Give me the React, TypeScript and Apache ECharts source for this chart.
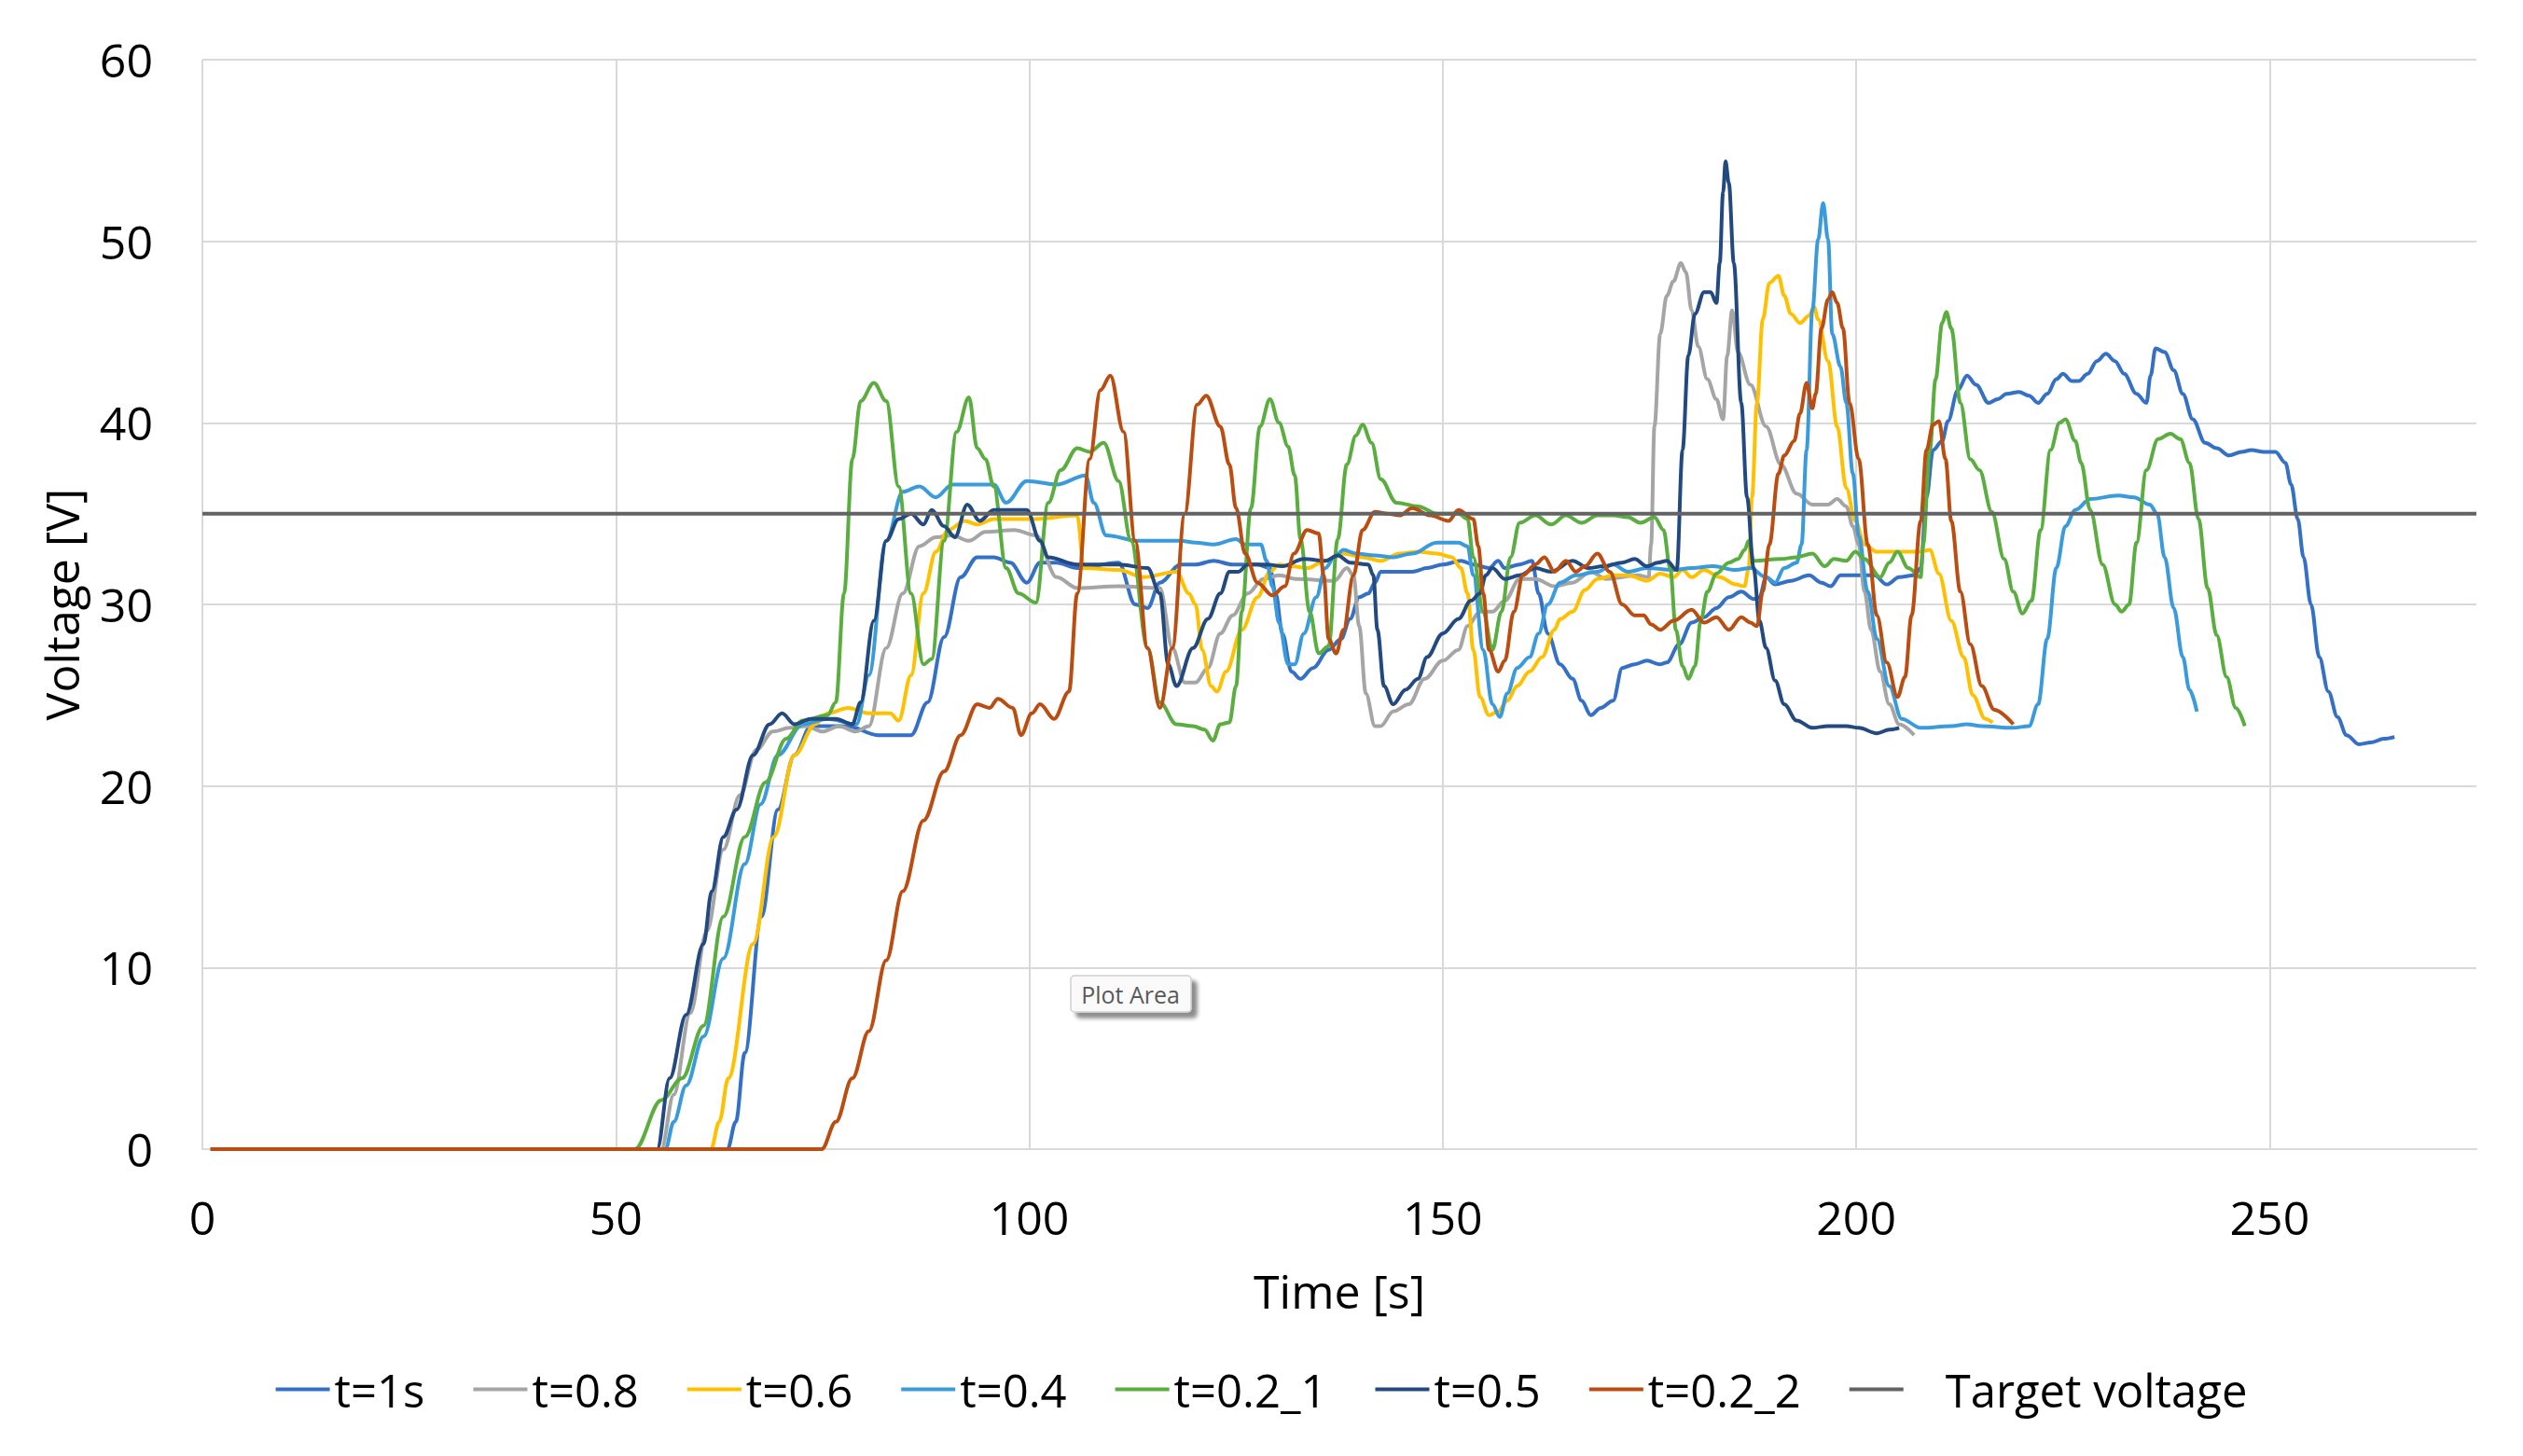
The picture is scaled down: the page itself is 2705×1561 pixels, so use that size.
import React, { useEffect, useRef } from "react";
import * as echarts from "echarts";

const seriesNames = ["t=1s", "t=0.8", "t=0.6", "t=0.4", "t=0.2_1", "t=0.5", "t=0.2_2", "Target voltage"];
const seriesColors = ["#3370C6", "#A5A5A5", "#FFC000", "#3A9BDC", "#5AAE3F", "#224A80", "#BB4D10", "#636363"];

const xMin = 0;
const xMax = 275;
const xInterval = 50;
const yMin = 0;
const yMax = 60;
const yInterval = 10;
const xTitle = "Time [s]";
const yTitle = "Voltage [V]";

const t1s = [[1,0],[63.5,0],[64.5,1.5],[65.6,5.3],[67.6,12.8],[69.6,18.7],[71.6,21.7],[73.6,23.3],[78,23.3],[81.7,22.8],[85.7,22.8],[87.7,24.6],[89.7,28.2],[91.7,31.5],[93.7,32.6],[95.7,32.6],[97.7,32.3],[99.7,31.2],[101.3,32.3],[103.3,32.3],[105.8,32],[110.8,32.3],[112.8,30],[114.3,29.8],[115.8,31.2],[118.3,32.2],[120.1,32.2],[122.3,32.4],[124.6,32.2],[127.6,32.2],[129.1,32],[129.8,30.6],[130.6,28.4],[131.7,26.3],[132.8,25.9],[134.3,26.5],[136.2,27.5],[137.7,28.1],[138.8,29.2],[139.9,30.4],[141,30.6],[141.8,31.2],[142.5,31.8],[146.3,31.8],[148.1,32],[150,32.2],[152.2,32.4],[153.7,32.2],[155.6,32],[156.7,32.4],[157.5,32],[159.3,32.2],[160.8,32.4],[161.6,30.6],[162.7,28.4],[164.2,26.7],[165.7,25.9],[166.8,24.7],[167.9,23.9],[169.1,24.3],[170.6,24.7],[171.7,26.5],[173.2,26.7],[174.7,26.9],[176.2,26.7],[177.1,26.8],[178.6,27.8],[180.1,29],[181.6,29.3],[183.1,29.8],[184.6,30.4],[186.1,30.7],[187.6,30.3],[188.3,30.4],[189.1,31.5],[190.2,31.1],[192.1,31.3],[194.3,31.6],[195.8,31.2],[196.9,31],[198.1,31.6],[202.2,31.6],[203.7,31.1],[205.2,31.5],[207,31.6],[207.8,32],[208.5,35.9],[209.3,38.5],[210.4,39],[211.1,40.1],[212.3,41.8],[213.4,42.6],[214.5,42.1],[216,41.1],[217.1,41.3],[218.2,41.6],[219.7,41.7],[220.9,41.5],[222,41.1],[223.1,41.6],[224.2,42.4],[225,42.7],[226.1,42.3],[226.9,42.3],[228,42.7],[229.1,43.4],[230.2,43.8],[231.3,43.4],[232.4,42.7],[233.9,41.6],[235.1,41.1],[235.6,42.6],[236.2,44.1],[237.3,43.9],[238.4,42.9],[239.5,41.6],[240.7,40.2],[242.2,38.9],[243.6,38.6],[245.1,38.2],[246.6,38.4],[247.8,38.5],[249.3,38.4],[250.7,38.4],[251.9,37.8],[252.6,36.6],[253.4,34.7],[254.1,32.6],[255,30],[256,27.1],[257.1,25.2],[258.2,23.8],[259.3,22.8],[260.8,22.3],[262.3,22.4],[263.8,22.6],[265.1,22.7]];

const t08 = [[1,0],[55.5,0],[57,3],[59,7.5],[61,12],[63,16.5],[65,19.5],[67,22],[69,23],[71,23.2],[73,23.3],[75,23],[77,23.3],[79,23],[80.6,23.3],[82.7,27.6],[84.7,30.6],[86.7,33.2],[88.7,33.7],[90.7,33.8],[92.7,33.5],[94.7,34],[98.2,34.1],[100.8,33.8],[103.3,31.5],[105.8,30.9],[110.8,31],[115.8,30.9],[117.3,27.6],[118.8,25.7],[120.1,25.7],[121.6,26.5],[123.1,28.4],[124.6,29.4],[126.4,30.6],[128.3,31.4],[130.2,31.6],[132.4,31.4],[136.9,31.3],[138.4,32],[139.2,31.6],[139.9,28.8],[140.7,25.1],[141.8,23.3],[142.5,23.3],[144,24.1],[145.9,24.5],[147.8,25.9],[150,26.9],[151.9,27.5],[153,28.8],[154.5,29.6],[156,29.6],[157.5,30.2],[159.3,31.4],[161.2,31.4],[163.5,31],[165.7,31.2],[167.9,31.8],[169.8,31.4],[173.6,31.6],[174.9,31.5],[175.2,33.3],[175.6,39.8],[176.3,44.9],[177.1,47],[177.9,47.8],[178.8,48.8],[179.4,48.3],[180.1,46.2],[180.9,44.2],[182,42.4],[183.1,41.3],[183.9,40.2],[184.4,43.7],[185,46.2],[185.7,43.9],[187.2,42.1],[189.1,39.8],[190.9,37.7],[192.8,36.1],[194.7,35.5],[196.6,35.5],[197.7,35.8],[198.8,35.4],[199.6,34.3],[200.3,33.3],[201,30.7],[201.8,28.6],[202.9,26.3],[204,24.5],[205.2,23.4],[207,22.8]];

const t06 = [[1,0],[61.5,0],[62.5,1.5],[63.6,3.9],[66.6,11.3],[69.1,17.2],[71.6,21.7],[74.1,23.4],[75.6,24],[78.1,24.3],[80.6,24],[83.2,24],[84.2,23.6],[85.7,26.1],[87.2,30.6],[88.7,32.9],[90.2,34.1],[92.2,34.6],[93.7,34.4],[95.7,34.7],[100.8,34.7],[105.8,34.9],[106.6,32],[110.8,31.9],[113.8,31.5],[117.8,31.8],[119.3,30.6],[120.1,30],[120.9,27.5],[122,25.5],[122.7,25.2],[123.8,26.3],[125.7,28.6],[127.6,30.4],[129.1,31.8],[130.2,32.2],[131.7,32.1],[133.6,32],[135.8,32.4],[138,32.8],[140.3,32.6],[142.5,32.4],[144.8,32.8],[147,32.9],[149.3,32.8],[151.1,32.6],[152.2,32],[153,30.6],[153.7,27.5],[154.5,24.9],[155.6,23.9],[156.7,24.1],[157.8,24.7],[159,25.5],[160.5,26.3],[162,27.1],[163.5,28.6],[164.2,29.2],[165.7,29.6],[167.2,30.8],[168.7,31.4],[170.6,31.6],[172.4,31.6],[174.7,31.3],[176.3,31.7],[177.9,31.5],[179,31.9],[180.1,31.5],[181.6,31.9],[183.5,31.5],[185.4,31.1],[186.5,31],[187,32],[187.4,35.9],[188,41.1],[188.7,45.7],[189.5,47.7],[190.6,48.1],[191.3,47],[192.1,46],[193.2,45.5],[194.3,45.9],[194.9,46.4],[195.4,45.7],[196.6,43.4],[197.7,39.8],[198.8,36.4],[199.9,34.6],[201,33.3],[202.5,32.9],[204.8,32.9],[207.8,32.9],[208.9,33],[210,31.7],[211.5,29.1],[213,27.1],[214.1,25],[215.6,23.7],[216.5,23.5]];

const t04 = [[1,0],[56,0],[57,1.5],[58.5,3.5],[60.6,6.2],[63,10.5],[65.6,15.7],[67.5,19],[69.6,21.7],[72.6,23.4],[75.6,23.7],[79.1,23.4],[80.6,26.1],[82.7,33.5],[84.7,36.2],[86.7,36.5],[88.7,35.9],[90.7,36.6],[95.7,36.6],[97.2,35.6],[99.7,36.8],[103.3,36.6],[106.8,37.1],[107.8,35.6],[109.3,33.8],[113.3,33.5],[118.3,33.5],[120.1,33.4],[122.3,33.3],[125,33.6],[126.1,33.3],[128,33.3],[128.7,32.4],[129.4,31],[130.2,29],[131.3,26.7],[132.1,26.7],[133.2,28.4],[134.7,30.4],[135.8,32],[136.9,32.6],[138,33],[139.5,32.8],[141.8,32.7],[144,32.6],[146.3,32.8],[149.3,33.4],[151.9,33.4],[153,33.2],[153.7,31.6],[154.9,27.5],[156,24.5],[156.9,23.8],[157.8,25.1],[159,26.5],[160.5,27.1],[161.6,28.4],[162.7,30],[164.2,31.2],[166.1,31.6],[168.7,31.8],[170.6,32.2],[172.4,31.8],[174.7,32],[177.9,31.9],[180.1,32],[182.7,32.1],[185.4,31.9],[187.2,32],[189.1,31.5],[190.2,31.2],[191.3,32],[192.8,32.3],[193.4,33.3],[194,38.5],[194.7,46.2],[195.4,50.1],[196,52.1],[196.6,50.1],[197.1,44.9],[198.1,43.1],[198.8,41.1],[199.6,37.2],[200.3,33.8],[201.4,30.7],[202.5,28.1],[204,25.5],[205.5,23.7],[207.8,23.2],[211.5,23.3],[213.4,23.4],[215.2,23.3],[219,23.2],[220.9,23.3],[222,24.5],[223.1,28.1],[224.2,32],[225.3,34.3],[226.5,35.2],[228.3,35.8],[231.7,36],[233.6,35.9],[235.5,35.5],[236.4,35],[237.3,32.6],[238.4,29.8],[239.5,27.1],[240.3,25.3],[241.2,24.1]];

const t02a = [[1,0],[52.3,0],[55.5,2.7],[58,3.9],[60.6,6.8],[63,12.8],[65.6,17.2],[68.1,20.2],[70.6,22.6],[72.6,23.6],[75.6,23.9],[76.6,24.6],[77.6,30.6],[78.6,38],[79.6,41.2],[81.2,42.2],[82.7,41.2],[84.2,36.5],[85.7,30.6],[87.2,26.7],[88.2,27],[89.7,33.5],[91.2,39.5],[92.7,41.4],[93.7,38.6],[94.7,38],[95.7,36.5],[97.2,32],[98.7,30.6],[100.8,30.1],[102.3,35.6],[103.8,37.4],[105.8,38.6],[107.3,38.4],[109,38.9],[110.8,36.8],[112.3,33.5],[114.3,27.6],[115.8,24.6],[117.8,23.4],[119.8,23.3],[121.2,23.1],[122.2,22.5],[123.1,23.4],[124.2,23.5],[125,25.5],[125.7,29.6],[126.8,35.3],[127.9,39.8],[129.1,41.3],[130.2,40],[131.3,38.7],[132.1,37.1],[132.8,33.6],[133.9,29.6],[135,27.3],[136.2,27.7],[137.3,33.6],[138.4,37.7],[139.5,39.3],[140.3,39.9],[141.4,38.9],[142.5,36.9],[144.4,35.6],[147,35.4],[149.3,35],[151.9,35],[153,34.7],[153.7,32.6],[154.9,29.6],[156,27.5],[157.1,29.6],[158.2,32.6],[159.3,34.5],[161.2,34.9],[163.1,34.4],[164.9,34.9],[166.8,34.5],[168.7,34.9],[170.6,34.9],[172.4,34.8],[173.9,34.5],[175.6,34.8],[176.7,34.1],[177.5,32],[178.2,28.6],[179,26.6],[179.7,25.9],[180.5,26.6],[181.2,29.1],[182,30.7],[183.1,31.7],[184.6,32.3],[185.7,32.5],[186.5,33],[187,33.5],[187.6,32.4],[190.9,32.5],[192.8,32.6],[194.7,32.8],[196.2,32.1],[197.3,32.5],[198.8,32.4],[199.9,32.9],[201,32.5],[202.9,31.5],[204,32.3],[205,32.9],[206.3,32],[207.8,31.5],[208.1,33.3],[208.9,38.5],[209.6,42.4],[210.4,45.5],[210.9,46.1],[211.5,45.2],[212.6,41.1],[213.8,38],[214.9,37.4],[216.4,35.1],[217.9,32.5],[219,30.7],[220.1,29.5],[221.2,30.2],[222.3,34.1],[223.5,38.5],[224.6,40],[225.3,40.2],[226.5,39],[227.2,37.8],[228.3,35.2],[229.8,32.2],[231.3,30],[232.1,29.6],[233,30],[233.9,33.4],[235.1,37.4],[236.5,39.1],[238,39.4],[239.2,39.1],[240.3,37.8],[241.4,34.7],[242.5,30.9],[243.6,28.3],[244.8,26],[245.9,24.3],[247,23.3]];

const t05 = [[1,0],[55,0],[56.5,3.9],[58.5,7.4],[60.6,11.3],[61.6,14.2],[63,17.2],[64.6,18.7],[66.6,21.7],[68.6,23.4],[70.1,24],[71.6,23.4],[73.6,23.7],[76.6,23.7],[78.6,23.4],[79.6,24.6],[81.2,29.1],[82.7,33.5],[84.2,34.7],[85.7,35],[87.2,34.4],[88.2,35.2],[89.7,34.3],[91,33.7],[92.5,35.5],[94,34.6],[95.7,35.2],[99.7,35.2],[101.3,33.5],[102.3,32.6],[105.8,32.2],[110.8,32.2],[114.3,32],[115.8,30.6],[116.8,26.7],[117.8,25.5],[119.8,27.6],[121.6,29.2],[123.1,30.6],[124.2,31.8],[125.3,31.8],[126.4,32.2],[128.7,32.2],[130.6,32.1],[133.2,32.5],[135.8,32.4],[137.3,32.7],[138.8,32.3],[141,32.2],[141.6,31.6],[142.1,28.6],[142.9,25.5],[144,24.5],[145.5,25.3],[147,25.9],[148.1,27.1],[150,28.4],[151.9,29.2],[153.4,30.2],[154.5,30.6],[155.2,31.6],[156,32],[157.5,31.4],[159.3,31.6],[161.2,32],[163.1,31.8],[165.7,32.4],[167.6,32],[169.4,32.1],[171.7,32.3],[173.2,32.5],[174.7,32.1],[176,32.3],[177.1,32.4],[178.3,31.9],[179,38.5],[179.7,43.7],[180.5,46],[181.6,47.2],[182.4,47.2],[183.1,46.6],[183.5,48.8],[183.9,52.7],[184.2,54.4],[184.6,53.2],[185.2,48.8],[186.1,41.1],[186.8,35.9],[187.6,32],[188.3,29.1],[189.1,27.6],[190.2,25.8],[191.3,24.5],[192.8,23.6],[194.7,23.2],[196.6,23.3],[198.8,23.3],[200.3,23.2],[202.5,22.9],[204,23.1],[205.2,23.2]];

const t02b = [[1,0],[74.9,0],[76.6,1.5],[78.6,3.9],[80.6,6.5],[82.7,10.4],[84.7,14.2],[87.2,18.1],[89.7,20.8],[91.7,22.8],[93.7,24.5],[95.2,24.3],[96.2,24.8],[98,24.3],[99,22.8],[100.3,24],[101.3,24.5],[103,23.7],[104.8,25.2],[105.8,30.6],[107.3,38],[108.6,41.8],[109.8,42.6],[111.4,39.5],[112.8,33.5],[114.3,27.6],[115.8,24.3],[117.3,27.6],[118.8,35],[120.3,41],[121.4,41.5],[123.1,39.8],[124.2,37.7],[125,35.3],[126.1,32.8],[127.6,31.2],[129.4,30.5],[130.9,31],[132,32.8],[133.6,34.1],[135,33.9],[135.6,31.6],[136.2,28.1],[137.1,27.3],[138,28.6],[139.2,31.6],[140.3,34.1],[141.8,35.1],[143.3,35],[144.8,34.9],[146.3,35.3],[148.5,34.9],[150.7,34.6],[151.9,35.2],[153.7,34.7],[154.3,33.2],[154.9,30.6],[155.6,27.5],[156.7,26.3],[157.5,26.9],[158.6,29.6],[159.7,31.6],[161.2,32.2],[162.3,32.6],[163.5,31.8],[164.9,32.4],[166.1,31.8],[167.2,32.1],[168.7,32.8],[170.2,31.8],[171.7,30],[173.2,29.4],[174.3,29.4],[175.2,28.9],[176.3,28.6],[177.9,29.1],[180.1,29.7],[181.6,29],[183.1,29.3],[184.6,28.6],[186.1,29.3],[187.2,29],[188,28.8],[188.7,30.7],[189.5,33.3],[190.6,37.2],[191.3,38.2],[192.5,39],[193.2,40.5],[194,42.2],[194.7,40.8],[195.1,41.6],[195.8,45.2],[196.6,46.8],[197.1,47.2],[197.7,46.6],[198.4,45.2],[199.2,41.1],[200.3,38],[201.4,33.3],[202.5,29.4],[203.7,26.8],[205,24.9],[205.9,26],[206.7,29.4],[207.8,34.6],[208.5,38.5],[209.3,39.9],[210,40.1],[210.8,38],[211.5,34.6],[212.6,30.7],[213.8,27.8],[215.2,25.5],[216.7,24.2],[219,23.4]];

const targetVoltage = [[0,35],[275,35]];

const seriesData = [t1s, t08, t06, t04, t02a, t05, t02b, targetVoltage];

const FONT = "Open Sans";

export default function App() {
  const ref = useRef<HTMLDivElement>(null);
  useEffect(() => {
    if (!ref.current) return;
    const chart = echarts.init(ref.current, undefined, { renderer: "svg" });
    const grid = "#D9D9D9";
    const option: any = {
      animation: false,
      backgroundColor: "#ffffff",
      grid: { left: 217, top: 64, width: 2438, height: 1168, containLabel: false },
      legend: {
        show: true,
        left: "center",
        top: 1460,
        icon: "rect",
        itemWidth: 58,
        itemHeight: 4,
        itemGap: 52,
        data: seriesNames,
        textStyle: {
          fontFamily: FONT,
          fontSize: 49,
          color: "#000000",
          rich: { pad: { width: 40 } },
        },
        formatter: (name: string) => (name === "Target voltage" ? "{pad|}" + name : name),
      },
      xAxis: {
        type: "value",
        min: xMin,
        max: xMax,
        interval: xInterval,
        name: xTitle,
        nameLocation: "middle",
        nameGap: 127,
        nameTextStyle: { fontFamily: FONT, fontSize: 50, color: "#000000" },
        axisLine: { show: true, onZero: false, lineStyle: { color: grid, width: 2 } },
        axisTick: { show: false },
        axisLabel: { fontFamily: FONT, fontSize: 50, color: "#000000", margin: 48, showMaxLabel: false },
        splitLine: {
          show: true,
          showMaxLine: false,
          lineStyle: { color: [grid, grid, grid, grid, grid, grid, "rgba(0,0,0,0)"], width: 2 },
        },
      },
      yAxis: {
        type: "value",
        min: yMin,
        max: yMax,
        interval: yInterval,
        name: yTitle,
        nameLocation: "middle",
        nameGap: 126,
        nameTextStyle: { fontFamily: FONT, fontSize: 50, color: "#000000" },
        axisLine: { show: false },
        axisTick: { show: false },
        axisLabel: { fontFamily: FONT, fontSize: 50, color: "#000000", margin: 53 },
        splitLine: { show: true, lineStyle: { color: grid, width: 2 } },
      },
      series: seriesNames.map((name, i) => ({
        name,
        type: "line",
        data: seriesData[i],
        showSymbol: false,
        symbol: "none",
        smooth: i === 7 ? false : 0.35,
        smoothMonotone: "x",
        clip: true,
        lineStyle: { color: seriesColors[i], width: i === 7 ? 4 : 4 },
        itemStyle: { color: seriesColors[i] },
        z: 2 + i,
      })),
      graphic: [
        {
          type: "rect",
          z: 100,
          shape: { x: 1148, y: 1046, width: 129, height: 39, r: 4 },
          style: {
            fill: "#FAFAFA",
            stroke: "#CFCFCF",
            lineWidth: 1.5,
            shadowBlur: 4,
            shadowOffsetX: 6,
            shadowOffsetY: 6,
            shadowColor: "rgba(0,0,0,0.45)",
          },
        },
        {
          type: "text",
          z: 101,
          x: 1212,
          y: 1066,
          style: {
            text: "Plot Area",
            fontFamily: FONT,
            fontSize: 25,
            fill: "#595959",
            align: "center",
            verticalAlign: "middle",
          },
        },
      ],
    };
    chart.setOption(option);
    return () => chart.dispose();
  }, []);
  return (
    <div
      ref={ref}
      style={{ position: "fixed", left: 0, top: 0, width: 2705, height: 1561, background: "#ffffff" }}
    />
  );
}
